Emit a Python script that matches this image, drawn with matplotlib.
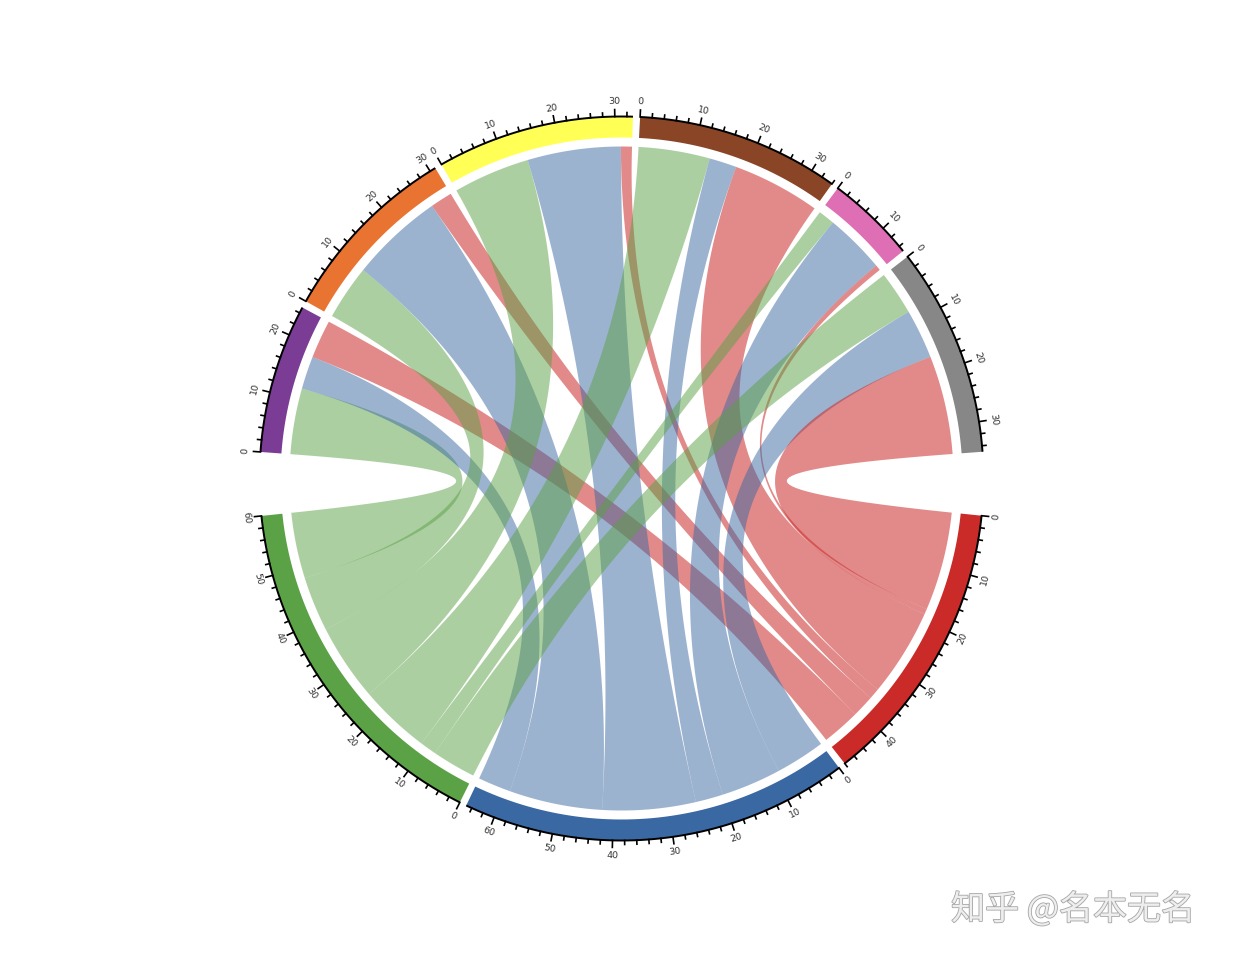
import matplotlib
matplotlib.use("Agg")
import matplotlib.pyplot as plt
import matplotlib.patheffects as pe
import numpy as np
from matplotlib.patches import Polygon

# sectors on the upper half (clockwise order) and on the lower half
top_names = ["purple", "orange", "yellow", "brown", "pink", "gray"]
bottom_names = ["green", "blue", "red"]

# flows from each upper sector to green, blue, red
flows_green = [12, 10, 14, 13, 3, 8]
flows_blue = [6, 17, 17, 5, 11, 9]
flows_red = [7, 4, 2, 16, 1, 18]

sector_colors = {
    "purple": "#7B3C96",
    "orange": "#E97331",
    "yellow": "#FFFF55",
    "brown": "#8A4526",
    "pink": "#DE6FB5",
    "gray": "#878787",
    "green": "#5BA146",
    "blue": "#3A68A3",
    "red": "#CA2A28",
}

watermark = "知乎 @名本无名"

# geometry, in pixels (axes span the whole figure, 1 unit = 1 px)
CX, CY = 621.5, 478.5
R_OUT, R_IN, R_LINK = 362, 341, 332
DEG_PER_UNIT = 0.959
SMALL_GAP = 1.13
START = -5.9  # red sector starts here, sectors run clockwise

mat = np.array([flows_green, flows_blue, flows_red]).T  # rows: top, cols: bottom
top_sizes = mat.sum(axis=1)
bottom_sizes = mat.sum(axis=0)
sizes = dict(zip(top_names, top_sizes))
sizes.update(dict(zip(bottom_names, bottom_sizes)))

total = mat.sum() * 2
big_gap = (360 - total * DEG_PER_UNIT - 7 * SMALL_GAP) / 2

order = ["red", "blue", "green", None, "purple", "orange", "yellow", "brown", "pink", "gray"]
sector_start = {}
a = START
for name in order:
    if name is None:
        a -= big_gap - SMALL_GAP
        continue
    sector_start[name] = a
    a -= sizes[name] * DEG_PER_UNIT + SMALL_GAP


def ang(name, pos):
    return sector_start[name] - pos * DEG_PER_UNIT


def pt(r, deg):
    t = np.deg2rad(deg)
    return np.array([r * np.cos(t), r * np.sin(t)])


def arc(r, a1, a2, n=60):
    t = np.deg2rad(np.linspace(a1, a2, n))
    return np.column_stack([r * np.cos(t), r * np.sin(t)])


def bez(p0, p2, n=80):
    s = np.linspace(0, 1, n)[:, None]
    return (1 - s) ** 2 * p0 + (s ** 2) * p2  # control point at the centre


fig = plt.figure(figsize=(12.4, 9.6), dpi=100)
ax = fig.add_axes([0, 0, 1, 1])
ax.set_xlim(-CX, 1240 - CX)
ax.set_ylim(-(960 - CY), CY)
ax.set_aspect("equal")
ax.axis("off")

# offsets of each link inside its sectors
top_offset = {}
for i, tn in enumerate(top_names):
    pos = 0
    for j, bn in enumerate(bottom_names):
        top_offset[(i, j)] = pos
        pos += mat[i, j]
bottom_offset = {}
for j, bn in enumerate(bottom_names):
    pos = 0
    for i in reversed(range(len(top_names))):
        bottom_offset[(i, j)] = pos
        pos += mat[i, j]

link_alpha = {"green": 0.5, "blue": 0.5, "red": 0.55}
for i, tn in enumerate(top_names):
    for j, bn in enumerate(bottom_names):
        v = mat[i, j]
        ra1 = ang(tn, top_offset[(i, j)])
        ra2 = ang(tn, top_offset[(i, j)] + v)
        ca1 = ang(bn, bottom_offset[(i, j)])
        ca2 = ang(bn, bottom_offset[(i, j)] + v)
        pts = np.vstack([
            arc(R_LINK, ra1, ra2),
            bez(pt(R_LINK, ra2), pt(R_LINK, ca1)),
            arc(R_LINK, ca1, ca2),
            bez(pt(R_LINK, ca2), pt(R_LINK, ra1)),
        ])
        ax.add_patch(Polygon(pts, closed=True, facecolor=sector_colors[bn],
                             alpha=link_alpha[bn], edgecolor="none", lw=0))

# sector tracks, axis lines, ticks and labels
for name in top_names + bottom_names:
    a1 = ang(name, 0)
    a2 = ang(name, sizes[name])
    ring = np.vstack([arc(R_OUT, a1, a2), arc(R_IN, a2, a1)])
    ax.add_patch(Polygon(ring, closed=True, facecolor=sector_colors[name], edgecolor="none"))
    line = arc(R_OUT, a1, a2)
    ax.plot(line[:, 0], line[:, 1], color="black", lw=1.4, solid_capstyle="butt")
    for v in range(0, int(sizes[name]) + 1, 2):
        t = ang(name, v)
        major = v % 10 == 0
        p0 = pt(R_OUT, t)
        p1 = pt(R_OUT + (7 if major else 4), t)
        ax.plot([p0[0], p1[0]], [p0[1], p1[1]], color="black", lw=1.2)
        if major:
            lp = pt(R_OUT + 15, t)
            tt = t % 360
            rot = tt - 90 if tt <= 180 else tt + 90
            ax.text(lp[0], lp[1], str(v), rotation=rot, ha="center", va="center",
                    fontsize=6.8, color="#333333", rotation_mode="anchor")

fig.text(1073 / 1240, 1 - 910 / 960, watermark, ha="center", va="center",
         fontsize=24.5, color="#eeeeee", family=["Noto Sans CJK SC", "DejaVu Sans"],
         path_effects=[pe.withStroke(linewidth=1.2, foreground="#a5a5a5")])

fig.savefig("out.png", dpi=100)
